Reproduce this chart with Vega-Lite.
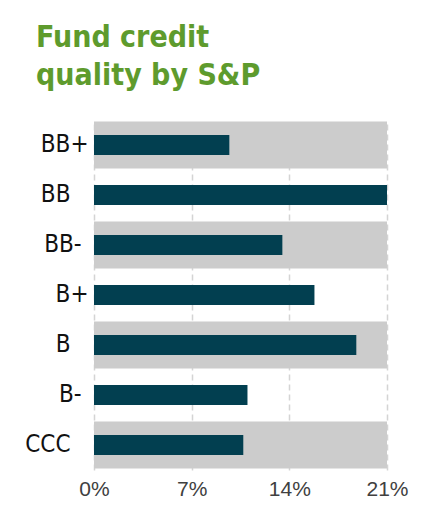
{
  "$schema": "https://vega.github.io/schema/vega-lite/v6.json",
  "width": 293,
  "height": 350,
  "autosize": {"type": "none"},
  "padding": {"left": 94, "top": 120, "right": 37, "bottom": 54},
  "background": "white",
  "title": {
    "text": ["Fund credit", "quality by S&P"],
    "anchor": "start",
    "frame": "group",
    "dx": -58,
    "offset": 29,
    "font": "DejaVu Sans Condensed",
    "fontWeight": "bold",
    "fontSize": 30,
    "lineHeight": 38,
    "color": "#5E9B2D"
  },
  "config": {"view": {"stroke": null}},
  "data": {
    "values": [
      {"rating": "BB+", "share": 9.7, "shaded": true},
      {"rating": "BB", "share": 21.0, "shaded": false},
      {"rating": "BB-", "share": 13.5, "shaded": true},
      {"rating": "B+", "share": 15.8, "shaded": false},
      {"rating": "B", "share": 18.8, "shaded": true},
      {"rating": "B-", "share": 11.0, "shaded": false},
      {"rating": "CCC", "share": 10.7, "shaded": true}
    ]
  },
  "encoding": {
    "y": {
      "field": "rating",
      "type": "nominal",
      "sort": ["BB+", "BB", "BB-", "B+", "B", "B-", "CCC"],
      "scale": {"paddingInner": 0, "paddingOuter": 0},
      "axis": {
        "title": null,
        "ticks": false,
        "domain": false,
        "labelPadding": 6,
        "labelFont": "DejaVu Sans Condensed",
        "labelFontSize": 24,
        "labelColor": "#111111",
        "labelExpr": "indexof(['BB','B','CCC'], datum.value) >= 0 ? datum.value + '\u00a0\u00a0\u2009\u200b' : (indexof(['BB-','B-'], datum.value) >= 0 ? datum.value + '\u00a0\u200b' : datum.value)"
      }
    }
  },
  "layer": [
    {
      "transform": [{"filter": "datum.shaded"}],
      "mark": {"type": "bar", "color": "#cccccc", "height": {"band": 0.94}},
      "encoding": {
        "x": {
          "datum": 0,
          "type": "quantitative",
          "scale": {"domain": [0, 21], "nice": false},
          "axis": {
            "title": null,
            "values": [0, 7, 14, 21],
            "labelExpr": "datum.value + '%'",
            "ticks": false,
            "domain": false,
            "grid": true,
            "gridDash": [6, 4],
            "gridColor": "#d4d4d4",
            "gridWidth": 1.5,
            "labelFont": "Liberation Sans, sans-serif",
            "labelFontSize": 21,
            "labelColor": "#404040",
            "labelPadding": 8,
            "labelFlush": false,
            "labelOverlap": false
          }
        },
        "x2": {"datum": 21}
      }
    },
    {
      "mark": {"type": "bar", "color": "#023F50", "height": {"band": 0.4}},
      "encoding": {
        "x": {
          "field": "share",
          "type": "quantitative"
        }
      }
    }
  ]
}
